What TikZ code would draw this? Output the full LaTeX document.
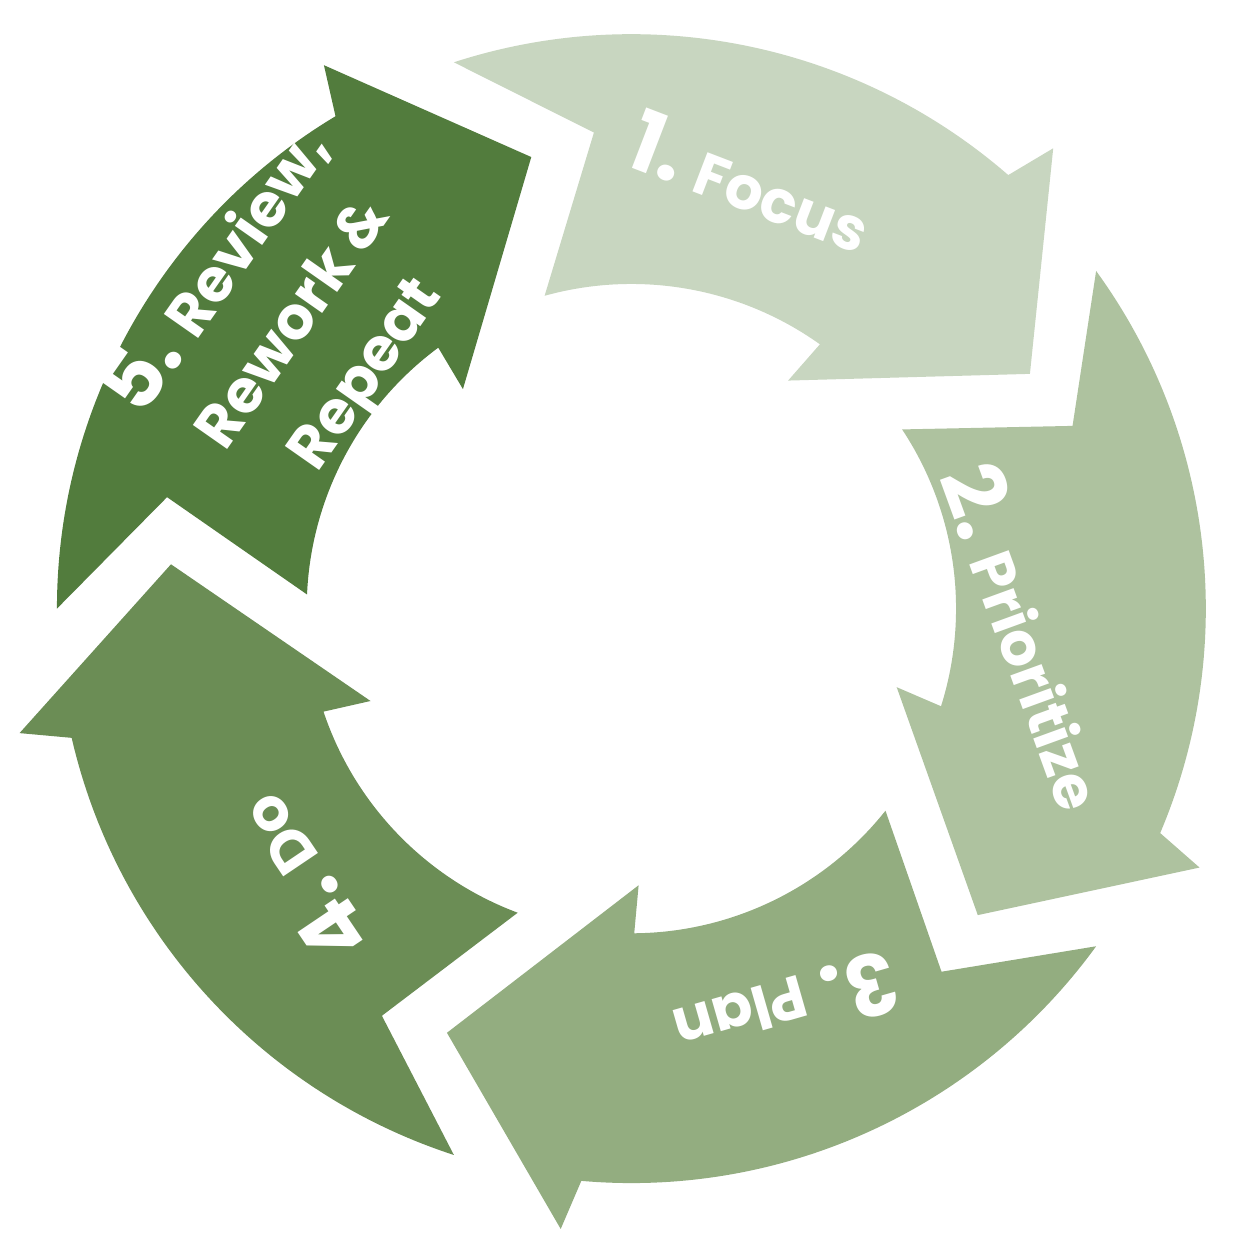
\documentclass[tikz,border=0pt]{standalone}
\usepackage{fontspec}
\setmainfont{Poppins}
\definecolor{cA}{HTML}{C8D6C0}
\definecolor{cB}{HTML}{AEC29F}
\definecolor{cC}{HTML}{93AD80}
\definecolor{cD}{HTML}{6B8D55}
\definecolor{cE}{HTML}{527C3D}
\newcommand\cyclearrow[2]{%
  \fill[#2] (#1:4.63cm) -- ({#1+17}:6.25cm) -- ({#1+18.5}:5.75cm)
    arc[start angle={#1+18.5}, end angle={#1+77.5}, radius=5.75cm]
    -- ({#1+64}:4.78cm) -- ({#1+75}:3.25cm)
    arc[start angle={#1+75}, end angle={#1+24}, radius=3.25cm]
    -- ({#1+25}:2.77cm) -- cycle;}
\newcommand\bignum[1]{{\fontsize{24}{26}\selectfont #1}}
\tikzset{lbl/.style={text=white,font=\bfseries\fontsize{17}{20}\selectfont,align=center,inner sep=0pt}}
\begin{document}
\begin{tikzpicture}
\fill[white] (0,0) rectangle (12.4,-12.4);
\begin{scope}[shift={(6.32,-6.08)}]
\cyclearrow{30.5}{cA}
\cyclearrow{-41.5}{cB}
\cyclearrow{-113.5}{cC}
\cyclearrow{174.5}{cD}
\cyclearrow{102.5}{cE}
\end{scope}
\node[lbl,rotate=-21] (t1) at (7.52,-1.8) {\bignum{1.} Focus};
\node[lbl,rotate=-70] (t2) at (10.3,-6.35) {\bignum{2.} Prioritize};
\node[lbl,rotate=196] (t3) at (7.88,-10.1) {\bignum{3.} Plan};
\node[lbl,rotate=124] (t4) at (3.0,-8.8) {\bignum{4.} Do};
\node[lbl,rotate=55,font=\bfseries\fontsize{17}{25}\selectfont] (t5) at (2.9,-3.2) {\bignum{5.} Review,\\Rework \&\\Repeat};
\end{tikzpicture}
\end{document}
